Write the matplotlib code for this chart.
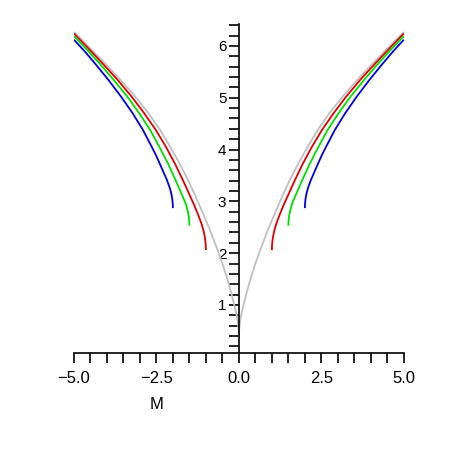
import numpy as np
import matplotlib
matplotlib.use('Agg')
import matplotlib.pyplot as plt
from matplotlib.ticker import MultipleLocator, FixedLocator

# curves: height and |M| (left half is the mirror image)
gray_y = [0.38, 0.50, 0.60, 0.71, 0.84, 0.97, 1.15, 1.32, 1.48, 1.80, 2.12, 2.45,
          2.77, 3.09, 3.41, 3.73, 4.05, 4.38, 4.70, 5.02, 5.34, 5.66, 5.97, 6.27]
gray_m = [0.0, 0.006, 0.02, 0.04, 0.08, 0.13, 0.20, 0.27, 0.34, 0.50, 0.68, 0.88,
          1.09, 1.31, 1.54, 1.80, 2.08, 2.39, 2.74, 3.14, 3.58, 4.05, 4.53, 5.0]

red_y = [2.06, 2.15, 2.25, 2.35, 2.46, 2.58, 2.75, 2.92, 3.09, 3.40, 3.73,
         4.05, 4.38, 4.70, 5.02, 5.34, 5.66, 5.95, 6.24]
red_m = [1.0, 1.004, 1.019, 1.044, 1.083, 1.14, 1.24, 1.35, 1.47, 1.69, 1.94,
         2.21, 2.52, 2.87, 3.25, 3.67, 4.13, 4.56, 5.0]

green_y = [2.53, 2.62, 2.72, 2.82, 2.95, 3.09, 3.25, 3.41, 3.57, 3.73, 4.05,
           4.38, 4.70, 5.02, 5.34, 5.66, 5.93, 6.19]
green_m = [1.5, 1.505, 1.523, 1.554, 1.61, 1.70, 1.81, 1.92, 2.035, 2.15, 2.41,
           2.69, 3.02, 3.38, 3.79, 4.22, 4.61, 5.0]

blue_y = [2.87, 2.95, 3.05, 3.15, 3.25, 3.41, 3.57, 3.73, 3.90, 4.10, 4.38,
          4.70, 5.02, 5.34, 5.66, 5.90, 6.12]
blue_m = [2.0, 2.004, 2.02, 2.049, 2.09, 2.18, 2.29, 2.40, 2.52, 2.68, 2.91,
          3.22, 3.57, 3.95, 4.36, 4.68, 5.0]

curves = [
    (gray_m, gray_y, '#c0c0c0'),
    (red_m, red_y, '#e00000'),
    (green_m, green_y, '#00e000'),
    (blue_m, blue_y, '#0000e0'),
]

x_ticks = [-5.0, -2.5, 0.0, 2.5, 5.0]
x_labels = ['\u22125.0', '\u22122.5', '0.0', '2.5', '5.0']
y_ticks = [1, 2, 3, 4, 5, 6]

plt.rcParams['font.family'] = ['Liberation Sans', 'DejaVu Sans']

fig = plt.figure(figsize=(4.74, 4.74), dpi=100)
ax = fig.add_axes([0.156, 0.256, 0.696, 0.693])

for m, y, c in curves:
    m = np.array(m)
    ax.plot(-m, y, color=c, lw=1.3, solid_capstyle='butt', solid_joinstyle='round')
    ax.plot(m, y, color=c, lw=1.3, solid_capstyle='butt', solid_joinstyle='round')

ax.set_xlim(-5, 5)
ax.set_ylim(0.08, 6.42)

ax.spines['top'].set_visible(False)
ax.spines['right'].set_visible(False)
ax.spines['left'].set_position(('data', 0))
ax.spines['left'].set_linewidth(1.2)
ax.spines['bottom'].set_linewidth(1.2)

ax.xaxis.set_major_locator(FixedLocator(x_ticks))
ax.set_xticklabels(x_labels)
ax.xaxis.set_minor_locator(MultipleLocator(0.5))
ax.yaxis.set_major_locator(FixedLocator(y_ticks))
ax.yaxis.set_minor_locator(MultipleLocator(0.2))

ax.tick_params(axis='x', which='both', direction='out', length=7, width=1.2,
               labelsize=12, pad=6)
ax.tick_params(axis='y', which='both', direction='out', length=7, width=1.2,
               labelsize=11, pad=2)

ax.set_xlabel('M', fontsize=12)
ax.xaxis.set_label_coords(0.25, -0.135)
ax.xaxis.label.set_va('top')

fig.savefig('out.png', dpi=100)
